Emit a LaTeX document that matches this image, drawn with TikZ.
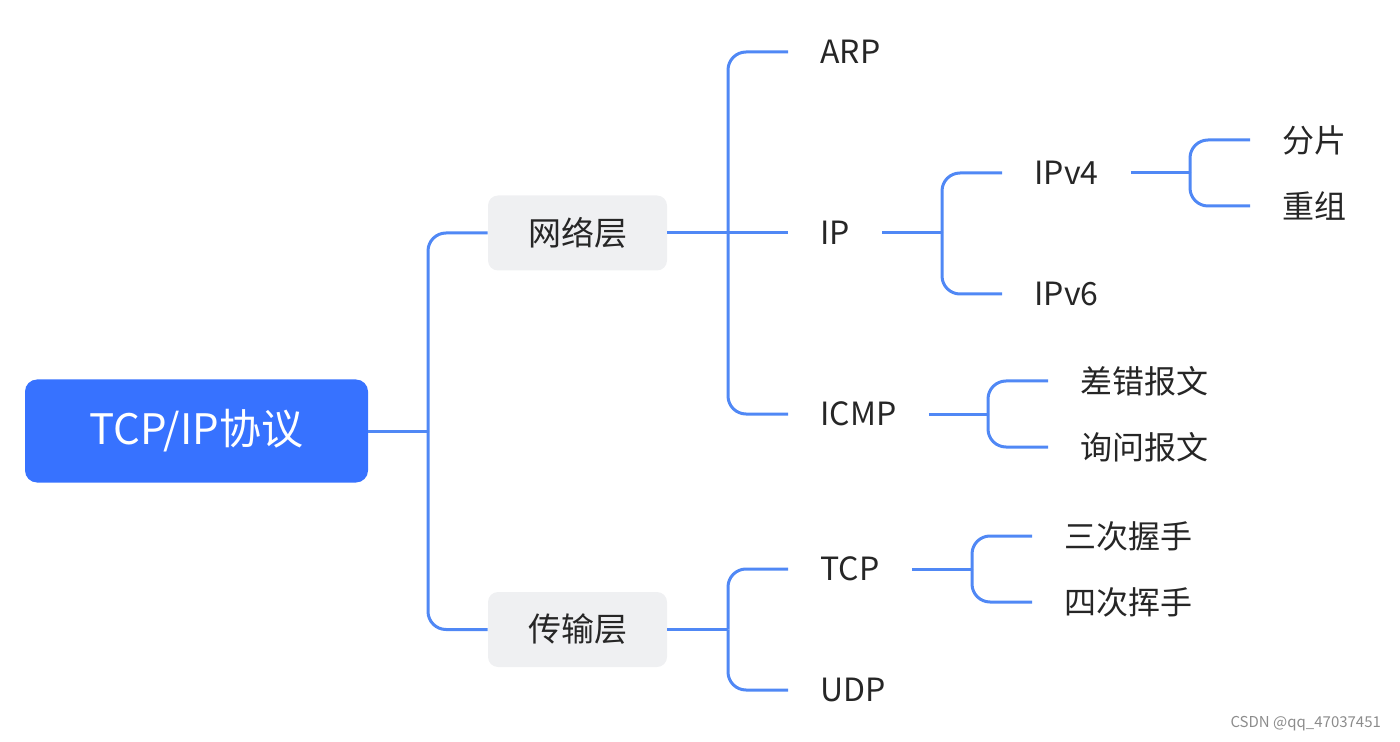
\documentclass[tikz,border=0pt]{standalone}
\usepackage{fontspec}
\setmainfont{Noto Sans CJK SC}
\begin{document}
\begin{tikzpicture}[x=0.5pt,y=-0.5pt,
  conn/.style={draw=lineblue,line width=1.5pt,rounded corners=9pt},
  lbl/.style={anchor=west,inner xsep=16pt,inner ysep=0pt,font=\fontsize{16}{18}\selectfont,text=black!85},
  layer/.style={fill=boxgray,rounded corners=5pt,minimum width=89.5pt,minimum height=37.5pt,font=\fontsize{16.5}{19}\selectfont,text=black!85}]
\definecolor{lineblue}{HTML}{5088F5}
\definecolor{boxgray}{HTML}{EFF0F2}
\definecolor{rootblue}{HTML}{3772FF}
\useasboundingbox (0,0) rectangle (1400,742);
\node[fill=rootblue,rounded corners=6pt,minimum width=171.5pt,minimum height=51.5pt,text=white,font=\fontsize{21}{24}\selectfont] (root) at (196.5,431) {TCP/IP协议};
\node[layer] (net) at (577.5,233) {网络层};
\node[layer] (tra) at (577.5,629.5) {传输层};
\node[lbl] (arp) at (788,52) {ARP};
\node[lbl] (ip) at (788,233) {IP};
\node[lbl] (icmp) at (788,414) {ICMP};
\node[lbl] (ipv4) at (1002,173) {IPv4};
\node[lbl] (ipv6) at (1002,294) {IPv6};
\node[lbl] (fp) at (1250,140) {分片};
\node[lbl] (cz) at (1250,206) {重组};
\node[lbl] (cc) at (1048,381) {差错报文};
\node[lbl] (xw) at (1048,447) {询问报文};
\node[lbl] (tcp) at (788,569) {TCP};
\node[lbl] (udp) at (788,690) {UDP};
\node[lbl] (sw) at (1032,536) {三次握手};
\node[lbl] (hs) at (1032,602) {四次挥手};
\node[anchor=east,font=\fontsize{7.5}{9}\selectfont,text=black!45] (wm) at (1388,724) {CSDN @qq\_47037451};
\coordinate (j0) at (428,431);
\coordinate (j1) at (728,233);
\coordinate (j2) at (942,233);
\coordinate (j3) at (1190,173);
\coordinate (j4) at (988,414);
\coordinate (j5) at (728,629.5);
\coordinate (j6) at (972,569);
\draw[conn] (root.east) -- (j0);
\draw[conn] (j0) |- (net.west);
\draw[conn] (j0) |- (tra.west);
\draw[conn] (net.east) -- (j1);
\draw[conn] (j1) |- (arp.west);
\draw[conn] (j1) -- (ip.west);
\draw[conn] (j1) |- (icmp.west);
\draw[conn] (ip.east) -- (j2);
\draw[conn] (j2) |- (ipv4.west);
\draw[conn] (j2) |- (ipv6.west);
\draw[conn] (ipv4.east) -- (j3);
\draw[conn] (j3) |- (fp.west);
\draw[conn] (j3) |- (cz.west);
\draw[conn] (icmp.east) -- (j4);
\draw[conn] (j4) |- (cc.west);
\draw[conn] (j4) |- (xw.west);
\draw[conn] (tra.east) -- (j5);
\draw[conn] (j5) |- (tcp.west);
\draw[conn] (j5) |- (udp.west);
\draw[conn] (tcp.east) -- (j6);
\draw[conn] (j6) |- (sw.west);
\draw[conn] (j6) |- (hs.west);
\end{tikzpicture}
\end{document}
